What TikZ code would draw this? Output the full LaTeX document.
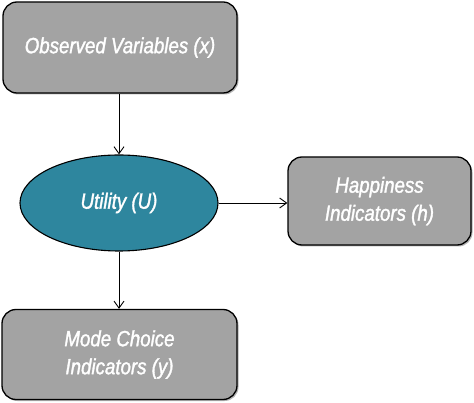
\documentclass[tikz,border=0pt]{standalone}
\usepackage{fontspec}
\setmainfont{Liberation Sans}
\newfontfamily\labelfont[FakeStretch=0.85,FakeBold=1.5]{Liberation Sans}
\usetikzlibrary{shapes.geometric,arrows.meta,shadows}
\begin{document}
\begin{tikzpicture}[x=1pt,y=-1pt,
  lbl/.style={font=\labelfont\itshape\fontsize{22}{28}\selectfont,text=white,align=center},
  box/.style={draw=black,line width=1.3pt,fill=boxgray,rounded corners=14pt,
    minimum width=#1,inner sep=0pt,lbl,
    drop shadow={shadow xshift=1.5pt,shadow yshift=-1.5pt,fill=black!60}},
  conn/.style={draw=black,line width=0.9pt,-{Straight Barb[length=7pt,width=10pt]}}]
\definecolor{boxgray}{HTML}{A3A3A3}
\definecolor{teal}{HTML}{2E869E}
\useasboundingbox (0,0) rectangle (474,403);
\node[box=234pt,minimum height=91pt] (obs) at (120,47.5) {Observed Variables (x)};
\node[draw=black,line width=1.1pt,fill=teal,ellipse,minimum width=198pt,minimum height=96pt,
  inner sep=0pt,lbl] (util) at (119,203) {Utility (U)};
\node[box=183pt,minimum height=88pt] (hap) at (379.5,201) {Happiness\\Indicators (h)};
\node[box=235pt,minimum height=90pt] (mode) at (119.5,354.5) {Mode Choice\\Indicators (y)};
\draw[conn] (obs.south -| util.north) -- (util.north);
\draw[conn] (util.east) -- (hap.west |- util.east);
\draw[conn] (util.south) -- (mode.north -| util.south);
\end{tikzpicture}
\end{document}
